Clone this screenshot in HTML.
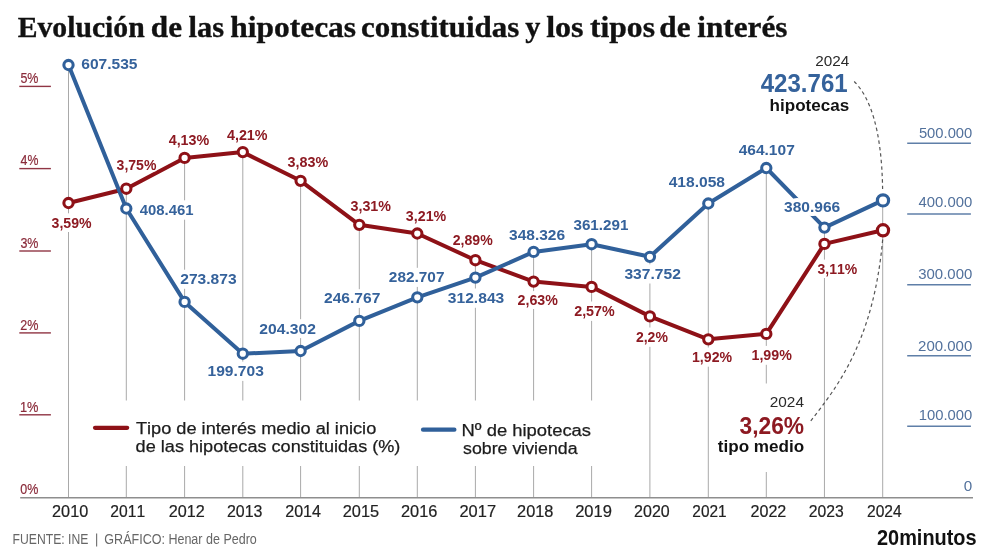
<!DOCTYPE html>
<html><head><meta charset="utf-8"><title>Evolución de las hipotecas</title>
<style>html,body{margin:0;padding:0;background:#fff;width:990px;height:556px;overflow:hidden;font-family:"Liberation Sans",sans-serif}</style></head><body>
<svg width="990" height="556" viewBox="0 0 990 556" style="display:block;font-kerning:none;will-change:transform">
<rect width="990" height="556" fill="#fff"/>
<text x="17.69" y="37.00" font-family='"Liberation Serif", serif' font-weight="bold" font-size="30.00" fill="#111" textLength="126.96" lengthAdjust="spacingAndGlyphs" stroke="#111" stroke-width="0.35">Evolución</text>
<text x="150.84" y="37.00" font-family='"Liberation Serif", serif' font-weight="bold" font-size="30.00" fill="#111" textLength="31.17" lengthAdjust="spacingAndGlyphs" stroke="#111" stroke-width="0.35">de</text>
<text x="188.51" y="37.00" font-family='"Liberation Serif", serif' font-weight="bold" font-size="30.00" fill="#111" textLength="35.54" lengthAdjust="spacingAndGlyphs" stroke="#111" stroke-width="0.35">las</text>
<text x="230.32" y="37.00" font-family='"Liberation Serif", serif' font-weight="bold" font-size="30.00" fill="#111" textLength="125.75" lengthAdjust="spacingAndGlyphs" stroke="#111" stroke-width="0.35">hipotecas</text>
<text x="361.14" y="37.00" font-family='"Liberation Serif", serif' font-weight="bold" font-size="30.00" fill="#111" textLength="158.21" lengthAdjust="spacingAndGlyphs" stroke="#111" stroke-width="0.35">constituidas</text>
<text x="525.21" y="37.00" font-family='"Liberation Serif", serif' font-weight="bold" font-size="30.00" fill="#111" textLength="15.09" lengthAdjust="spacingAndGlyphs" stroke="#111" stroke-width="0.35">y</text>
<text x="546.17" y="37.00" font-family='"Liberation Serif", serif' font-weight="bold" font-size="30.00" fill="#111" textLength="37.41" lengthAdjust="spacingAndGlyphs" stroke="#111" stroke-width="0.35">los</text>
<text x="589.99" y="37.00" font-family='"Liberation Serif", serif' font-weight="bold" font-size="30.00" fill="#111" textLength="64.98" lengthAdjust="spacingAndGlyphs" stroke="#111" stroke-width="0.35">tipos</text>
<text x="659.34" y="37.00" font-family='"Liberation Serif", serif' font-weight="bold" font-size="30.00" fill="#111" textLength="31.17" lengthAdjust="spacingAndGlyphs" stroke="#111" stroke-width="0.35">de</text>
<text x="697.31" y="37.00" font-family='"Liberation Serif", serif' font-weight="bold" font-size="30.00" fill="#111" textLength="90.15" lengthAdjust="spacingAndGlyphs" stroke="#111" stroke-width="0.35">interés</text>
<line x1="68.50" y1="65.00" x2="68.50" y2="497.8" stroke="#a9a9a9" stroke-width="1"/>
<line x1="126.30" y1="188.70" x2="126.30" y2="497.8" stroke="#a9a9a9" stroke-width="1"/>
<line x1="184.60" y1="157.90" x2="184.60" y2="497.8" stroke="#a9a9a9" stroke-width="1"/>
<line x1="242.80" y1="152.10" x2="242.80" y2="497.8" stroke="#a9a9a9" stroke-width="1"/>
<line x1="300.60" y1="180.80" x2="300.60" y2="497.8" stroke="#a9a9a9" stroke-width="1"/>
<line x1="359.30" y1="224.80" x2="359.30" y2="497.8" stroke="#a9a9a9" stroke-width="1"/>
<line x1="417.30" y1="233.50" x2="417.30" y2="497.8" stroke="#a9a9a9" stroke-width="1"/>
<line x1="475.40" y1="260.20" x2="475.40" y2="497.8" stroke="#a9a9a9" stroke-width="1"/>
<line x1="533.60" y1="251.90" x2="533.60" y2="497.8" stroke="#a9a9a9" stroke-width="1"/>
<line x1="591.60" y1="244.20" x2="591.60" y2="497.8" stroke="#a9a9a9" stroke-width="1"/>
<line x1="649.90" y1="256.80" x2="649.90" y2="497.8" stroke="#a9a9a9" stroke-width="1"/>
<line x1="708.30" y1="203.50" x2="708.30" y2="497.8" stroke="#a9a9a9" stroke-width="1"/>
<line x1="766.30" y1="168.00" x2="766.30" y2="497.8" stroke="#a9a9a9" stroke-width="1"/>
<line x1="824.45" y1="227.60" x2="824.45" y2="497.8" stroke="#a9a9a9" stroke-width="1"/>
<line x1="882.70" y1="200.40" x2="882.70" y2="497.8" stroke="#a9a9a9" stroke-width="1"/>
<line x1="20.2" y1="497.8" x2="973" y2="497.8" stroke="#8e8e8e" stroke-width="1.4"/>
<line x1="19.3" y1="86.4" x2="50.9" y2="86.4" stroke="#903544" stroke-width="1.4"/>
<text x="20.40" y="83.20" font-family='"Liberation Sans", sans-serif' font-weight="normal" font-size="14.68" fill="#8a2b3a" textLength="18.04" lengthAdjust="spacingAndGlyphs" stroke="#8a2b3a" stroke-width="0.2">5%</text>
<line x1="19.3" y1="168.6" x2="50.9" y2="168.6" stroke="#903544" stroke-width="1.4"/>
<text x="20.62" y="165.40" font-family='"Liberation Sans", sans-serif' font-weight="normal" font-size="14.68" fill="#8a2b3a" textLength="17.82" lengthAdjust="spacingAndGlyphs" stroke="#8a2b3a" stroke-width="0.2">4%</text>
<line x1="19.3" y1="251.0" x2="50.9" y2="251.0" stroke="#903544" stroke-width="1.4"/>
<text x="20.43" y="247.80" font-family='"Liberation Sans", sans-serif' font-weight="normal" font-size="14.46" fill="#8a2b3a" textLength="18.02" lengthAdjust="spacingAndGlyphs" stroke="#8a2b3a" stroke-width="0.2">3%</text>
<line x1="19.3" y1="332.9" x2="50.9" y2="332.9" stroke="#903544" stroke-width="1.4"/>
<text x="20.27" y="329.70" font-family='"Liberation Sans", sans-serif' font-weight="normal" font-size="14.46" fill="#8a2b3a" textLength="18.18" lengthAdjust="spacingAndGlyphs" stroke="#8a2b3a" stroke-width="0.2">2%</text>
<line x1="19.3" y1="414.8" x2="50.9" y2="414.8" stroke="#903544" stroke-width="1.4"/>
<text x="19.92" y="411.60" font-family='"Liberation Sans", sans-serif' font-weight="normal" font-size="14.68" fill="#8a2b3a" textLength="18.53" lengthAdjust="spacingAndGlyphs" stroke="#8a2b3a" stroke-width="0.2">1%</text>
<text x="20.31" y="494.00" font-family='"Liberation Sans", sans-serif' font-weight="normal" font-size="14.46" fill="#8a2b3a" textLength="18.03" lengthAdjust="spacingAndGlyphs" stroke="#8a2b3a" stroke-width="0.2">0%</text>
<line x1="907.2" y1="143.2" x2="970.9" y2="143.2" stroke="#5f7fa8" stroke-width="1.5"/>
<text x="918.91" y="137.70" font-family='"Liberation Sans", sans-serif' font-weight="normal" font-size="15.41" fill="#52719c" textLength="53.37" lengthAdjust="spacingAndGlyphs">500.000</text>
<line x1="907.2" y1="214.0" x2="970.9" y2="214.0" stroke="#5f7fa8" stroke-width="1.5"/>
<text x="918.46" y="206.80" font-family='"Liberation Sans", sans-serif' font-weight="normal" font-size="15.41" fill="#52719c" textLength="53.82" lengthAdjust="spacingAndGlyphs">400.000</text>
<line x1="907.2" y1="284.8" x2="970.9" y2="284.8" stroke="#5f7fa8" stroke-width="1.5"/>
<text x="918.23" y="278.80" font-family='"Liberation Sans", sans-serif' font-weight="normal" font-size="15.18" fill="#52719c" textLength="54.05" lengthAdjust="spacingAndGlyphs">300.000</text>
<line x1="907.2" y1="355.8" x2="970.9" y2="355.8" stroke="#5f7fa8" stroke-width="1.5"/>
<text x="918.05" y="350.50" font-family='"Liberation Sans", sans-serif' font-weight="normal" font-size="15.18" fill="#52719c" textLength="54.24" lengthAdjust="spacingAndGlyphs">200.000</text>
<line x1="907.2" y1="426.3" x2="970.9" y2="426.3" stroke="#5f7fa8" stroke-width="1.5"/>
<text x="918.77" y="419.80" font-family='"Liberation Sans", sans-serif' font-weight="normal" font-size="15.41" fill="#52719c" textLength="53.51" lengthAdjust="spacingAndGlyphs">100.000</text>
<text x="963.70" y="490.80" font-family='"Liberation Sans", sans-serif' font-weight="normal" font-size="15.04" fill="#52719c" textLength="8.49" lengthAdjust="spacingAndGlyphs">0</text>
<rect x="86" y="400.5" width="552" height="65.5" fill="#fff"/>
<rect x="712" y="383.5" width="96" height="88.5" fill="#fff"/>
<rect x="79.3" y="53.6" width="60.3" height="19.6" fill="#fff"/>
<rect x="137.5" y="200.3" width="58.1" height="19.4" fill="#fff"/>
<rect x="178.3" y="269.7" width="60.3" height="19.1" fill="#fff"/>
<rect x="206.0" y="361.6" width="59.8" height="19.3" fill="#fff"/>
<rect x="257.4" y="319.2" width="60.4" height="18.9" fill="#fff"/>
<rect x="322.1" y="289.2" width="60.1" height="18.7" fill="#fff"/>
<rect x="386.9" y="267.8" width="59.4" height="19.1" fill="#fff"/>
<rect x="445.7" y="288.5" width="60.5" height="19.3" fill="#fff"/>
<rect x="506.9" y="226.0" width="60.1" height="18.0" fill="#fff"/>
<rect x="571.3" y="214.9" width="59.2" height="19.2" fill="#fff"/>
<rect x="622.3" y="264.3" width="60.4" height="19.2" fill="#fff"/>
<rect x="666.4" y="172.4" width="60.6" height="19.4" fill="#fff"/>
<rect x="736.4" y="140.4" width="60.2" height="19.5" fill="#fff"/>
<rect x="781.9" y="196.5" width="60.2" height="19.5" fill="#fff"/>
<rect x="49.4" y="213.3" width="44.3" height="18.7" fill="#fff"/>
<rect x="114.4" y="156.2" width="44.1" height="18.5" fill="#fff"/>
<rect x="166.4" y="131.4" width="45.0" height="18.4" fill="#fff"/>
<rect x="224.7" y="125.3" width="45.0" height="19.2" fill="#fff"/>
<rect x="285.3" y="152.8" width="45.0" height="18.4" fill="#fff"/>
<rect x="348.3" y="197.0" width="44.8" height="18.6" fill="#fff"/>
<rect x="403.7" y="207.2" width="44.7" height="18.0" fill="#fff"/>
<rect x="450.7" y="231.5" width="44.1" height="17.5" fill="#fff"/>
<rect x="515.6" y="291.1" width="44.4" height="17.9" fill="#fff"/>
<rect x="572.2" y="301.5" width="44.6" height="19.4" fill="#fff"/>
<rect x="633.9" y="327.5" width="36.1" height="19.3" fill="#fff"/>
<rect x="690.4" y="347.5" width="43.8" height="19.2" fill="#fff"/>
<rect x="749.9" y="345.9" width="44.1" height="18.9" fill="#fff"/>
<rect x="815.3" y="259.6" width="44.0" height="18.4" fill="#fff"/>
<polyline points="68.50,203.00 126.30,188.70 184.60,157.90 242.80,152.10 300.60,180.80 359.30,224.80 417.30,233.50 475.40,260.20 533.60,281.60 591.60,286.90 649.90,316.40 708.30,339.30 766.30,333.90 824.45,243.90 882.70,230.30" fill="none" stroke="#8e1117" stroke-width="4" stroke-linejoin="round"/>
<polyline points="68.50,65.00 126.30,208.50 184.60,301.90 242.80,353.70 300.60,351.00 359.30,320.90 417.30,297.30 475.40,277.60 533.60,251.90 591.60,244.20 649.90,256.80 708.30,203.50 766.30,168.00 824.45,227.60 882.70,200.40" fill="none" stroke="#30609a" stroke-width="4" stroke-linejoin="round"/>
<circle cx="68.50" cy="203.00" r="4.65" fill="#fff" stroke="#8e1117" stroke-width="3.05"/>
<circle cx="126.30" cy="188.70" r="4.65" fill="#fff" stroke="#8e1117" stroke-width="3.05"/>
<circle cx="184.60" cy="157.90" r="4.65" fill="#fff" stroke="#8e1117" stroke-width="3.05"/>
<circle cx="242.80" cy="152.10" r="4.65" fill="#fff" stroke="#8e1117" stroke-width="3.05"/>
<circle cx="300.60" cy="180.80" r="4.65" fill="#fff" stroke="#8e1117" stroke-width="3.05"/>
<circle cx="359.30" cy="224.80" r="4.65" fill="#fff" stroke="#8e1117" stroke-width="3.05"/>
<circle cx="417.30" cy="233.50" r="4.65" fill="#fff" stroke="#8e1117" stroke-width="3.05"/>
<circle cx="475.40" cy="260.20" r="4.65" fill="#fff" stroke="#8e1117" stroke-width="3.05"/>
<circle cx="533.60" cy="281.60" r="4.65" fill="#fff" stroke="#8e1117" stroke-width="3.05"/>
<circle cx="591.60" cy="286.90" r="4.65" fill="#fff" stroke="#8e1117" stroke-width="3.05"/>
<circle cx="649.90" cy="316.40" r="4.65" fill="#fff" stroke="#8e1117" stroke-width="3.05"/>
<circle cx="708.30" cy="339.30" r="4.65" fill="#fff" stroke="#8e1117" stroke-width="3.05"/>
<circle cx="766.30" cy="333.90" r="4.65" fill="#fff" stroke="#8e1117" stroke-width="3.05"/>
<circle cx="824.45" cy="243.90" r="4.65" fill="#fff" stroke="#8e1117" stroke-width="3.05"/>
<circle cx="883.00" cy="230.30" r="5.6" fill="#fff" stroke="#8e1117" stroke-width="3.2"/>
<circle cx="68.50" cy="65.00" r="4.65" fill="#fff" stroke="#30609a" stroke-width="3.05"/>
<circle cx="126.30" cy="208.50" r="4.65" fill="#fff" stroke="#30609a" stroke-width="3.05"/>
<circle cx="184.60" cy="301.90" r="4.65" fill="#fff" stroke="#30609a" stroke-width="3.05"/>
<circle cx="242.80" cy="353.70" r="4.65" fill="#fff" stroke="#30609a" stroke-width="3.05"/>
<circle cx="300.60" cy="351.00" r="4.65" fill="#fff" stroke="#30609a" stroke-width="3.05"/>
<circle cx="359.30" cy="320.90" r="4.65" fill="#fff" stroke="#30609a" stroke-width="3.05"/>
<circle cx="417.30" cy="297.30" r="4.65" fill="#fff" stroke="#30609a" stroke-width="3.05"/>
<circle cx="475.40" cy="277.60" r="4.65" fill="#fff" stroke="#30609a" stroke-width="3.05"/>
<circle cx="533.60" cy="251.90" r="4.65" fill="#fff" stroke="#30609a" stroke-width="3.05"/>
<circle cx="591.60" cy="244.20" r="4.65" fill="#fff" stroke="#30609a" stroke-width="3.05"/>
<circle cx="649.90" cy="256.80" r="4.65" fill="#fff" stroke="#30609a" stroke-width="3.05"/>
<circle cx="708.30" cy="203.50" r="4.65" fill="#fff" stroke="#30609a" stroke-width="3.05"/>
<circle cx="766.30" cy="168.00" r="4.65" fill="#fff" stroke="#30609a" stroke-width="3.05"/>
<circle cx="824.45" cy="227.60" r="4.65" fill="#fff" stroke="#30609a" stroke-width="3.05"/>
<circle cx="883.00" cy="200.40" r="5.6" fill="#fff" stroke="#30609a" stroke-width="3.2"/>
<text x="81.23" y="68.70" font-family='"Liberation Sans", sans-serif' font-weight="bold" font-size="14.30" fill="#35629b" textLength="56.30" lengthAdjust="spacingAndGlyphs" stroke="#fff" stroke-width="3" stroke-linejoin="round" paint-order="stroke">607.535</text>
<text x="139.77" y="215.20" font-family='"Liberation Sans", sans-serif' font-weight="bold" font-size="14.30" fill="#35629b" textLength="53.74" lengthAdjust="spacingAndGlyphs" stroke="#fff" stroke-width="3" stroke-linejoin="round" paint-order="stroke">408.461</text>
<text x="180.26" y="284.30" font-family='"Liberation Sans", sans-serif' font-weight="bold" font-size="14.30" fill="#35629b" textLength="56.40" lengthAdjust="spacingAndGlyphs" stroke="#fff" stroke-width="3" stroke-linejoin="round" paint-order="stroke">273.873</text>
<text x="207.52" y="376.40" font-family='"Liberation Sans", sans-serif' font-weight="bold" font-size="14.30" fill="#35629b" textLength="56.35" lengthAdjust="spacingAndGlyphs" stroke="#fff" stroke-width="3" stroke-linejoin="round" paint-order="stroke">199.703</text>
<text x="259.36" y="333.60" font-family='"Liberation Sans", sans-serif' font-weight="bold" font-size="14.30" fill="#35629b" textLength="56.57" lengthAdjust="spacingAndGlyphs" stroke="#fff" stroke-width="3" stroke-linejoin="round" paint-order="stroke">204.302</text>
<text x="324.06" y="303.40" font-family='"Liberation Sans", sans-serif' font-weight="bold" font-size="14.30" fill="#35629b" textLength="56.32" lengthAdjust="spacingAndGlyphs" stroke="#fff" stroke-width="3" stroke-linejoin="round" paint-order="stroke">246.767</text>
<text x="388.87" y="282.40" font-family='"Liberation Sans", sans-serif' font-weight="bold" font-size="14.30" fill="#35629b" textLength="55.61" lengthAdjust="spacingAndGlyphs" stroke="#fff" stroke-width="3" stroke-linejoin="round" paint-order="stroke">282.707</text>
<text x="447.84" y="303.30" font-family='"Liberation Sans", sans-serif' font-weight="bold" font-size="14.30" fill="#35629b" textLength="56.42" lengthAdjust="spacingAndGlyphs" stroke="#fff" stroke-width="3" stroke-linejoin="round" paint-order="stroke">312.843</text>
<text x="509.04" y="239.50" font-family='"Liberation Sans", sans-serif' font-weight="bold" font-size="14.30" fill="#35629b" textLength="56.02" lengthAdjust="spacingAndGlyphs" stroke="#fff" stroke-width="3" stroke-linejoin="round" paint-order="stroke">348.326</text>
<text x="573.45" y="229.60" font-family='"Liberation Sans", sans-serif' font-weight="bold" font-size="14.30" fill="#35629b" textLength="54.97" lengthAdjust="spacingAndGlyphs" stroke="#fff" stroke-width="3" stroke-linejoin="round" paint-order="stroke">361.291</text>
<text x="624.44" y="279.00" font-family='"Liberation Sans", sans-serif' font-weight="bold" font-size="14.30" fill="#35629b" textLength="56.38" lengthAdjust="spacingAndGlyphs" stroke="#fff" stroke-width="3" stroke-linejoin="round" paint-order="stroke">337.752</text>
<text x="668.66" y="187.30" font-family='"Liberation Sans", sans-serif' font-weight="bold" font-size="14.30" fill="#35629b" textLength="56.32" lengthAdjust="spacingAndGlyphs" stroke="#fff" stroke-width="3" stroke-linejoin="round" paint-order="stroke">418.058</text>
<text x="738.67" y="155.40" font-family='"Liberation Sans", sans-serif' font-weight="bold" font-size="14.30" fill="#35629b" textLength="56.12" lengthAdjust="spacingAndGlyphs" stroke="#fff" stroke-width="3" stroke-linejoin="round" paint-order="stroke">464.107</text>
<text x="784.04" y="211.50" font-family='"Liberation Sans", sans-serif' font-weight="bold" font-size="14.30" fill="#35629b" textLength="56.12" lengthAdjust="spacingAndGlyphs" stroke="#fff" stroke-width="8" stroke-linejoin="round" paint-order="stroke">380.966</text>
<text x="51.58" y="227.50" font-family='"Liberation Sans", sans-serif' font-weight="bold" font-size="13.80" fill="#8d1a22" textLength="40.00" lengthAdjust="spacingAndGlyphs" stroke="#fff" stroke-width="3" stroke-linejoin="round" paint-order="stroke">3,59%</text>
<text x="116.58" y="170.20" font-family='"Liberation Sans", sans-serif' font-weight="bold" font-size="13.80" fill="#8d1a22" textLength="39.79" lengthAdjust="spacingAndGlyphs" stroke="#fff" stroke-width="3" stroke-linejoin="round" paint-order="stroke">3,75%</text>
<text x="168.68" y="145.30" font-family='"Liberation Sans", sans-serif' font-weight="bold" font-size="13.80" fill="#8d1a22" textLength="40.59" lengthAdjust="spacingAndGlyphs" stroke="#fff" stroke-width="3" stroke-linejoin="round" paint-order="stroke">4,13%</text>
<text x="226.98" y="140.00" font-family='"Liberation Sans", sans-serif' font-weight="bold" font-size="13.80" fill="#8d1a22" textLength="40.59" lengthAdjust="spacingAndGlyphs" stroke="#fff" stroke-width="3" stroke-linejoin="round" paint-order="stroke">4,21%</text>
<text x="287.47" y="166.70" font-family='"Liberation Sans", sans-serif' font-weight="bold" font-size="13.80" fill="#8d1a22" textLength="40.71" lengthAdjust="spacingAndGlyphs" stroke="#fff" stroke-width="3" stroke-linejoin="round" paint-order="stroke">3,83%</text>
<text x="350.47" y="211.10" font-family='"Liberation Sans", sans-serif' font-weight="bold" font-size="13.80" fill="#8d1a22" textLength="40.50" lengthAdjust="spacingAndGlyphs" stroke="#fff" stroke-width="3" stroke-linejoin="round" paint-order="stroke">3,31%</text>
<text x="405.87" y="220.70" font-family='"Liberation Sans", sans-serif' font-weight="bold" font-size="13.80" fill="#8d1a22" textLength="40.40" lengthAdjust="spacingAndGlyphs" stroke="#fff" stroke-width="3" stroke-linejoin="round" paint-order="stroke">3,21%</text>
<text x="452.71" y="244.50" font-family='"Liberation Sans", sans-serif' font-weight="bold" font-size="13.80" fill="#8d1a22" textLength="39.96" lengthAdjust="spacingAndGlyphs" stroke="#fff" stroke-width="3" stroke-linejoin="round" paint-order="stroke">2,89%</text>
<text x="517.61" y="304.50" font-family='"Liberation Sans", sans-serif' font-weight="bold" font-size="13.80" fill="#8d1a22" textLength="40.27" lengthAdjust="spacingAndGlyphs" stroke="#fff" stroke-width="3" stroke-linejoin="round" paint-order="stroke">2,63%</text>
<text x="574.21" y="316.40" font-family='"Liberation Sans", sans-serif' font-weight="bold" font-size="13.80" fill="#8d1a22" textLength="40.47" lengthAdjust="spacingAndGlyphs" stroke="#fff" stroke-width="3" stroke-linejoin="round" paint-order="stroke">2,57%</text>
<text x="635.91" y="342.30" font-family='"Liberation Sans", sans-serif' font-weight="bold" font-size="13.80" fill="#8d1a22" textLength="31.96" lengthAdjust="spacingAndGlyphs" stroke="#fff" stroke-width="3" stroke-linejoin="round" paint-order="stroke">2,2%</text>
<text x="692.01" y="362.20" font-family='"Liberation Sans", sans-serif' font-weight="bold" font-size="13.80" fill="#8d1a22" textLength="40.06" lengthAdjust="spacingAndGlyphs" stroke="#fff" stroke-width="3" stroke-linejoin="round" paint-order="stroke">1,92%</text>
<text x="751.50" y="360.30" font-family='"Liberation Sans", sans-serif' font-weight="bold" font-size="13.80" fill="#8d1a22" textLength="40.37" lengthAdjust="spacingAndGlyphs" stroke="#fff" stroke-width="3" stroke-linejoin="round" paint-order="stroke">1,99%</text>
<text x="817.48" y="273.50" font-family='"Liberation Sans", sans-serif' font-weight="bold" font-size="13.80" fill="#8d1a22" textLength="39.69" lengthAdjust="spacingAndGlyphs" stroke="#fff" stroke-width="3" stroke-linejoin="round" paint-order="stroke">3,11%</text>
<text x="52.08" y="516.80" font-family='"Liberation Sans", sans-serif' font-weight="normal" font-size="16.33" fill="#222" textLength="36.15" lengthAdjust="spacingAndGlyphs" stroke="#222" stroke-width="0.2">2010</text>
<text x="110.31" y="516.80" font-family='"Liberation Sans", sans-serif' font-weight="normal" font-size="16.33" fill="#222" textLength="34.85" lengthAdjust="spacingAndGlyphs" stroke="#222" stroke-width="0.2">2011</text>
<text x="168.79" y="516.80" font-family='"Liberation Sans", sans-serif' font-weight="normal" font-size="16.33" fill="#222" textLength="36.03" lengthAdjust="spacingAndGlyphs" stroke="#222" stroke-width="0.2">2012</text>
<text x="227.00" y="516.80" font-family='"Liberation Sans", sans-serif' font-weight="normal" font-size="16.33" fill="#222" textLength="35.50" lengthAdjust="spacingAndGlyphs" stroke="#222" stroke-width="0.2">2013</text>
<text x="285.19" y="516.80" font-family='"Liberation Sans", sans-serif' font-weight="normal" font-size="16.33" fill="#222" textLength="35.78" lengthAdjust="spacingAndGlyphs" stroke="#222" stroke-width="0.2">2014</text>
<text x="342.78" y="516.80" font-family='"Liberation Sans", sans-serif' font-weight="normal" font-size="16.33" fill="#222" textLength="36.41" lengthAdjust="spacingAndGlyphs" stroke="#222" stroke-width="0.2">2015</text>
<text x="400.98" y="516.80" font-family='"Liberation Sans", sans-serif' font-weight="normal" font-size="16.33" fill="#222" textLength="36.44" lengthAdjust="spacingAndGlyphs" stroke="#222" stroke-width="0.2">2016</text>
<text x="459.47" y="516.80" font-family='"Liberation Sans", sans-serif' font-weight="normal" font-size="16.33" fill="#222" textLength="36.55" lengthAdjust="spacingAndGlyphs" stroke="#222" stroke-width="0.2">2017</text>
<text x="517.08" y="516.80" font-family='"Liberation Sans", sans-serif' font-weight="normal" font-size="16.33" fill="#222" textLength="36.33" lengthAdjust="spacingAndGlyphs" stroke="#222" stroke-width="0.2">2018</text>
<text x="575.17" y="516.80" font-family='"Liberation Sans", sans-serif' font-weight="normal" font-size="16.33" fill="#222" textLength="36.82" lengthAdjust="spacingAndGlyphs" stroke="#222" stroke-width="0.2">2019</text>
<text x="634.09" y="516.80" font-family='"Liberation Sans", sans-serif' font-weight="normal" font-size="16.33" fill="#222" textLength="35.63" lengthAdjust="spacingAndGlyphs" stroke="#222" stroke-width="0.2">2020</text>
<text x="692.33" y="516.80" font-family='"Liberation Sans", sans-serif' font-weight="normal" font-size="16.33" fill="#222" textLength="34.22" lengthAdjust="spacingAndGlyphs" stroke="#222" stroke-width="0.2">2021</text>
<text x="750.49" y="516.80" font-family='"Liberation Sans", sans-serif' font-weight="normal" font-size="16.33" fill="#222" textLength="35.82" lengthAdjust="spacingAndGlyphs" stroke="#222" stroke-width="0.2">2022</text>
<text x="808.81" y="516.80" font-family='"Liberation Sans", sans-serif' font-weight="normal" font-size="16.33" fill="#222" textLength="34.98" lengthAdjust="spacingAndGlyphs" stroke="#222" stroke-width="0.2">2023</text>
<text x="867.01" y="516.80" font-family='"Liberation Sans", sans-serif' font-weight="normal" font-size="16.33" fill="#222" textLength="34.74" lengthAdjust="spacingAndGlyphs" stroke="#222" stroke-width="0.2">2024</text>
<line x1="95" y1="427.8" x2="127.2" y2="427.8" stroke="#8e1117" stroke-width="4.2" stroke-linecap="round"/>
<text x="135.99" y="434.00" font-family='"Liberation Sans", sans-serif' font-weight="normal" font-size="17.30" fill="#1c1c1c" textLength="240.27" lengthAdjust="spacingAndGlyphs" stroke="#1c1c1c" stroke-width="0.25">Tipo de interés medio al inicio</text>
<text x="135.64" y="451.50" font-family='"Liberation Sans", sans-serif' font-weight="normal" font-size="17.30" fill="#1c1c1c" textLength="264.78" lengthAdjust="spacingAndGlyphs" stroke="#1c1c1c" stroke-width="0.25">de las hipotecas constituidas (%)</text>
<line x1="423" y1="429.7" x2="454.4" y2="429.7" stroke="#30609a" stroke-width="4.2" stroke-linecap="round"/>
<text x="461.59" y="435.60" font-family='"Liberation Sans", sans-serif' font-weight="normal" font-size="17.30" fill="#1c1c1c" textLength="129.47" lengthAdjust="spacingAndGlyphs" stroke="#1c1c1c" stroke-width="0.25">Nº de hipotecas</text>
<text x="463.11" y="453.50" font-family='"Liberation Sans", sans-serif' font-weight="normal" font-size="17.30" fill="#1c1c1c" textLength="114.39" lengthAdjust="spacingAndGlyphs" stroke="#1c1c1c" stroke-width="0.25">sobre vivienda</text>
<text x="815.33" y="65.80" font-family='"Liberation Sans", sans-serif' font-weight="normal" font-size="14.46" fill="#2a2a2a" textLength="34.02" lengthAdjust="spacingAndGlyphs">2024</text>
<text x="760.74" y="91.90" font-family='"Liberation Sans", sans-serif' font-weight="bold" font-size="25.15" fill="#35629b" textLength="86.93" lengthAdjust="spacingAndGlyphs">423.761</text>
<text x="769.61" y="110.50" font-family='"Liberation Sans", sans-serif' font-weight="bold" font-size="17.39" fill="#111" textLength="79.59" lengthAdjust="spacingAndGlyphs">hipotecas</text>
<text x="769.73" y="407.30" font-family='"Liberation Sans", sans-serif' font-weight="normal" font-size="15.47" fill="#2a2a2a" textLength="34.22" lengthAdjust="spacingAndGlyphs">2024</text>
<text x="739.48" y="433.50" font-family='"Liberation Sans", sans-serif' font-weight="bold" font-size="24.06" fill="#8d1a22" textLength="64.62" lengthAdjust="spacingAndGlyphs">3,26%</text>
<text x="717.79" y="451.90" font-family='"Liberation Sans", sans-serif' font-weight="bold" font-size="16.28" fill="#111" textLength="86.38" lengthAdjust="spacingAndGlyphs">tipo medio</text>
<path d="M854.2,81.5 C869.5,96.7 881.7,128 882.6,189" fill="none" stroke="#555" stroke-width="1.2" stroke-dasharray="3.5 3"/>
<path d="M810.8,420.9 C838.8,385 874,339.3 882.8,238" fill="none" stroke="#555" stroke-width="1.2" stroke-dasharray="3.5 3"/>
<text x="12.60" y="544.00" font-family='"Liberation Sans", sans-serif' font-weight="normal" font-size="14.24" fill="#666" textLength="75.72" lengthAdjust="spacingAndGlyphs">FUENTE: INE</text>
<line x1="96.6" y1="533.5" x2="96.6" y2="546.5" stroke="#777" stroke-width="1.2"/>
<text x="104.37" y="544.00" font-family='"Liberation Sans", sans-serif' font-weight="normal" font-size="14.04" fill="#666" textLength="152.46" lengthAdjust="spacingAndGlyphs">GRÁFICO: Henar de Pedro</text>
<text x="877.01" y="544.50" font-family='"Liberation Sans", sans-serif' font-weight="bold" font-size="21.20" fill="#111" textLength="99.61" lengthAdjust="spacingAndGlyphs">20minutos</text>
</svg>
</body></html>
